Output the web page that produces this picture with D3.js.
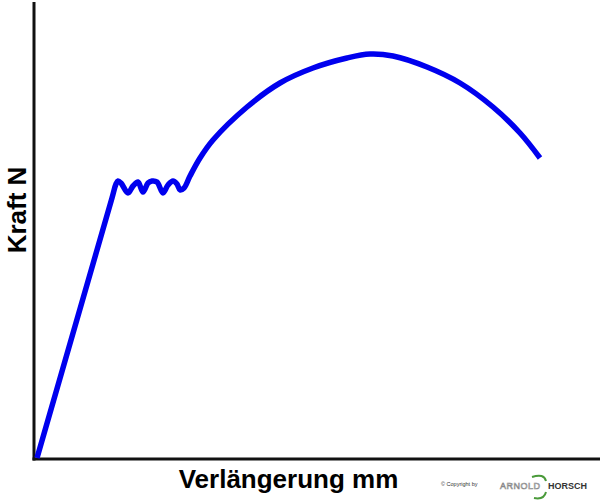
<!DOCTYPE html>
<html>
<head>
<meta charset="utf-8">
<script src="https://cdn.jsdelivr.net/npm/d3@7"></script>
<style>
	body { margin: 0; background: #fff; }
	text { font-family: "Liberation Sans", Arial, sans-serif; }
</style>
</head>
<body>
<svg id="chart"></svg>
<script>
/* Spannungs-Dehnungs-Kurve, values */

var elongation = [0.3, 7.8, 8.2, 8.4, 8.7, 9.4, 9.9, 10.4, 10.9, 11.4, 11.8, 12.3, 12.9, 13.4, 13.9, 14.3, 14.6, 15.0,
	15.6, 16.6, 17.9, 21.3, 24.6, 27.9, 31.3, 33.6, 35.9, 39.3, 42.6, 45.9, 48.6, 50.6];
var force = [0.1, 26.1, 27.5, 27.8, 27.6, 26.6, 27.3, 27.7, 26.7, 27.6, 27.8, 27.7, 26.6, 27.4, 27.8, 27.5, 26.9, 27.1,
	28.3, 30.1, 31.9, 35.2, 37.6, 39.1, 40.1, 40.5, 40.3, 39.2, 37.6, 35.2, 32.6, 30.1];

var xDomain = [0, 56.6];
var yDomain = [0, 45.7];

var xLabel = "Verlängerung mm";
var yLabel = "Kraft N";

var width = 600,
	height = 503;

var margin = {top: 2, right: 0, bottom: 44, left: 34};

var svg = d3.select("#chart")
	.attr("width", width)
	.attr("height", height);

var x = d3.scaleLinear()
	.domain(xDomain)
	.range([margin.left, width - margin.right]);

var y = d3.scaleLinear()
	.domain(yDomain)
	.range([height - margin.bottom, margin.top]);

/* Axes (plain lines, no ticks) */

svg.append("line")
	.attr("x1", x(0))
	.attr("x2", x(0))
	.attr("y1", y(yDomain[1]))
	.attr("y2", y(0) + 1.5)
	.attr("stroke", "#111")
	.attr("stroke-width", 3);

svg.append("line")
	.attr("x1", x(0) - 1.5)
	.attr("x2", x(xDomain[1]))
	.attr("y1", y(0))
	.attr("y2", y(0))
	.attr("stroke", "#111")
	.attr("stroke-width", 3);

/* Curve */

var line = d3.line()
	.x(function(d){ return x(elongation[d]); })
	.y(function(d){ return y(force[d]); })
	.curve(d3.curveCatmullRom.alpha(0.5));

svg.append("path")
	.datum(d3.range(elongation.length))
	.attr("fill", "none")
	.attr("stroke", "#0000ee")
	.attr("stroke-width", 5.5)
	.attr("stroke-linejoin", "round")
	.attr("d", line);

/* Labels */

svg.append("text")
	.attr("x", 288.5)
	.attr("y", 488)
	.attr("text-anchor", "middle")
	.attr("font-size", 26)
	.attr("font-weight", "bold")
	.attr("fill", "#000")
	.text(xLabel);

svg.append("text")
	.attr("transform", "translate(26,210) rotate(-90)")
	.attr("text-anchor", "middle")
	.attr("font-size", 26)
	.attr("font-weight", "bold")
	.attr("fill", "#000")
	.text(yLabel);

/* Copyright / logo */

svg.append("text")
	.attr("x", 441)
	.attr("y", 486)
	.attr("font-size", 5.5)
	.attr("fill", "#333")
	.text("© Copyright by");

var logo = svg.append("g")
	.attr("transform", "translate(500,489)");

logo.append("text")
	.attr("x", 0)
	.attr("y", 0)
	.attr("font-size", 9)
	.attr("fill", "#fff")
	.attr("stroke", "#888")
	.attr("stroke-width", 0.6)
	.attr("letter-spacing", 0.5)
	.text("ARNOLD");

logo.append("text")
	.attr("x", 48)
	.attr("y", 0)
	.attr("font-size", 9)
	.attr("font-weight", "bold")
	.attr("fill", "#333")
	.text("HORSCH");

logo.append("path")
	.attr("d", "M32,-12 Q44,-16 46,-8")
	.attr("fill", "none")
	.attr("stroke", "#4a9a3a")
	.attr("stroke-width", 2);

logo.append("path")
	.attr("d", "M46,3 Q44,11 34,9")
	.attr("fill", "none")
	.attr("stroke", "#4a9a3a")
	.attr("stroke-width", 2);
</script>
</body>
</html>
